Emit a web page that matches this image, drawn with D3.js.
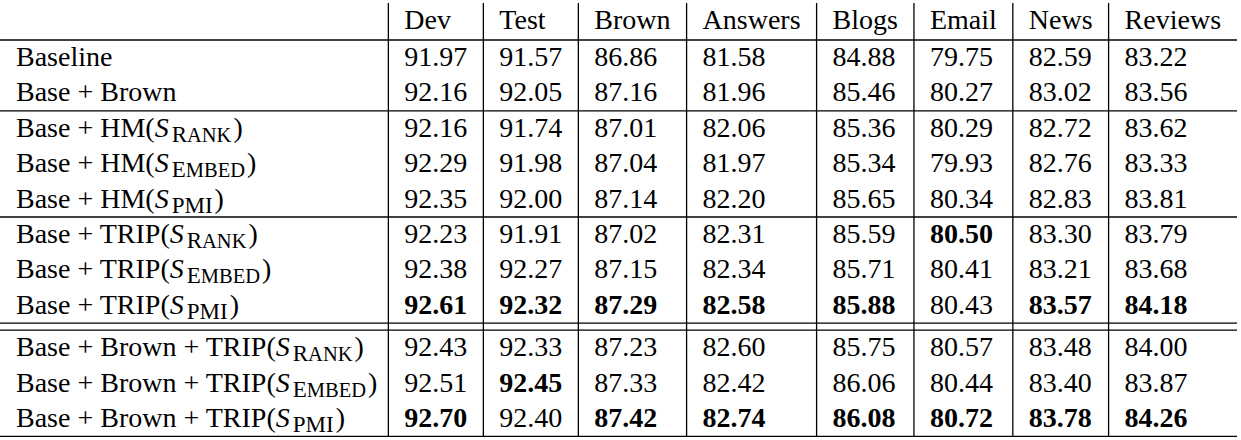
<!DOCTYPE html>
<html>

<head>
	<meta charset="utf-8">
	<script src="https://cdn.jsdelivr.net/npm/d3@7"></script>
	<style>
		body {
			margin: 0;
			background: #fff;
		}

		text {
			font-family: "Liberation Serif", "Times New Roman", serif;
			font-size: 28px;
			fill: #000;
		}

		.rule {
			stroke: #000;
			stroke-width: 1.3;
		}
	</style>
</head>

<body>
	<svg></svg>
	<script>

		// column headers
		var columns = ["Dev", "Test", "Brown", "Answers", "Blogs", "Email", "News", "Reviews"];

		// row labels: prefix text, then the optional scoring function subscript
		var rowPrefix = ["Baseline", "Base + Brown",
			"Base + HM(", "Base + HM(", "Base + HM(",
			"Base + TRIP(", "Base + TRIP(", "Base + TRIP(",
			"Base + Brown + TRIP(", "Base + Brown + TRIP(", "Base + Brown + TRIP("];
		var rowScore = [null, null,
			"RANK", "EMBED", "PMI",
			"RANK", "EMBED", "PMI",
			"RANK", "EMBED", "PMI"];
		var rowGroup = [0, 0, 1, 1, 1, 2, 2, 2, 3, 3, 3];

		var values = [
			[91.97, 91.57, 86.86, 81.58, 84.88, 79.75, 82.59, 83.22],
			[92.16, 92.05, 87.16, 81.96, 85.46, 80.27, 83.02, 83.56],
			[92.16, 91.74, 87.01, 82.06, 85.36, 80.29, 82.72, 83.62],
			[92.29, 91.98, 87.04, 81.97, 85.34, 79.93, 82.76, 83.33],
			[92.35, 92.00, 87.14, 82.20, 85.65, 80.34, 82.83, 83.81],
			[92.23, 91.91, 87.02, 82.31, 85.59, 80.50, 83.30, 83.79],
			[92.38, 92.27, 87.15, 82.34, 85.71, 80.41, 83.21, 83.68],
			[92.61, 92.32, 87.29, 82.58, 85.88, 80.43, 83.57, 84.18],
			[92.43, 92.33, 87.23, 82.60, 85.75, 80.57, 83.48, 84.00],
			[92.51, 92.45, 87.33, 82.42, 86.06, 80.44, 83.40, 83.87],
			[92.70, 92.40, 87.42, 82.74, 86.08, 80.72, 83.78, 84.26]
		];

		// [row, column] of the bold (best) cells
		var boldCells = [
			[5, 5],
			[7, 0], [7, 1], [7, 2], [7, 3], [7, 4], [7, 6], [7, 7],
			[9, 1],
			[10, 0], [10, 2], [10, 3], [10, 4], [10, 5], [10, 6], [10, 7]
		];

		var width = 1241;
		var height = 440;
		var pad = 16;
		var headerH = 40;
		var rowH = 35.4;
		var doubleGap = 7;
		var baseOff = 26;

		var svg = d3.select("svg")
			.attr("width", width)
			.attr("height", height);

		var isBold = function (r, c) {
			return boldCells.some(function (b) { return b[0] === r && b[1] === c; });
		};

		// top of each body row, leaving room for the double rule before the last group
		function rowTop(i) {
			return headerH + i * rowH + (rowGroup[i] === 3 ? doubleGap : 0);
		}

		var g = svg.append("g");

		// row labels
		var labels = g.selectAll(".label")
			.data(rowPrefix)
			.enter().append("text")
			.attr("class", "label")
			.attr("x", pad)
			.attr("y", function (d, i) { return rowTop(i) + baseOff; });

		labels.each(function (d, i) {
			var t = d3.select(this);
			t.append("tspan").text(d);
			var sc = rowScore[i];
			if (!sc) return;
			t.append("tspan").style("font-style", "italic").text("S");
			var sub = t.append("tspan").attr("dx", 3).attr("dy", 5).style("font-size", "23px");
			if (sc === "PMI") {
				sub.text("PMI");
			} else {
				sub.append("tspan").text(sc[0]);
				sub.append("tspan").style("font-size", "20.5px").text(sc.slice(1));
			}
			t.append("tspan").attr("dx", 2).attr("dy", -5).style("font-size", "28px").text(")");
		});

		var labelW = d3.max(labels.nodes(), function (n) { return n.getComputedTextLength(); }) + 2 * pad;

		// measure each column's widest text to place the column rules
		var probe = g.append("text").attr("x", -1000).attr("y", -1000);
		var colW = columns.map(function (c, j) {
			var w = [c].concat(values.map(function (v) { return v[j].toFixed(2); }))
				.map(function (s, k) {
					probe.style("font-weight", k > 0 && isBold(k - 1, j) ? "bold" : "normal").text(s);
					return probe.node().getComputedTextLength();
				});
			return d3.max(w) + 2 * pad;
		});
		probe.remove();

		var colX = d3.cumsum([labelW].concat(colW));
		var x = d3.scaleOrdinal().domain(columns).range(colX.slice(0, columns.length));
		var right = colX[colX.length - 1];
		var bottom = rowTop(values.length - 1) + rowH;

		// header
		g.selectAll(".head")
			.data(columns)
			.enter().append("text")
			.attr("class", "head")
			.attr("x", function (d) { return x(d) + pad; })
			.attr("y", 29)
			.text(function (d) { return d; });

		// cells
		var rows = g.selectAll(".row")
			.data(values)
			.enter().append("g")
			.attr("class", "row")
			.attr("transform", function (d, i) { return "translate(0," + (rowTop(i) + baseOff) + ")"; });

		rows.selectAll("text")
			.data(function (d, i) { return d.map(function (v, j) { return { v: v, r: i, c: j }; }); })
			.enter().append("text")
			.attr("x", function (d) { return x(columns[d.c]) + pad; })
			.style("font-weight", function (d) { return isBold(d.r, d.c) ? "bold" : "normal"; })
			.text(function (d) { return d.v.toFixed(2); });

		// vertical rules
		g.selectAll(".vrule")
			.data(columns)
			.enter().append("line")
			.attr("class", "rule")
			.attr("x1", function (d) { return x(d); })
			.attr("x2", function (d) { return x(d); })
			.attr("y1", 3)
			.attr("y2", bottom);

		// horizontal rules: under header, between groups, double before last group, bottom
		var hLines = [headerH];
		for (var i = 1; i < rowGroup.length; i++) {
			if (rowGroup[i] !== rowGroup[i - 1]) {
				if (rowGroup[i] === 3) {
					hLines.push(rowTop(i) - doubleGap, rowTop(i));
				} else {
					hLines.push(rowTop(i));
				}
			}
		}
		hLines.push(bottom);

		g.selectAll(".hrule")
			.data(hLines)
			.enter().append("line")
			.attr("class", "rule")
			.attr("x1", 0)
			.attr("x2", right)
			.attr("y1", function (d) { return d; })
			.attr("y2", function (d) { return d; });

	</script>
</body>

</html>
